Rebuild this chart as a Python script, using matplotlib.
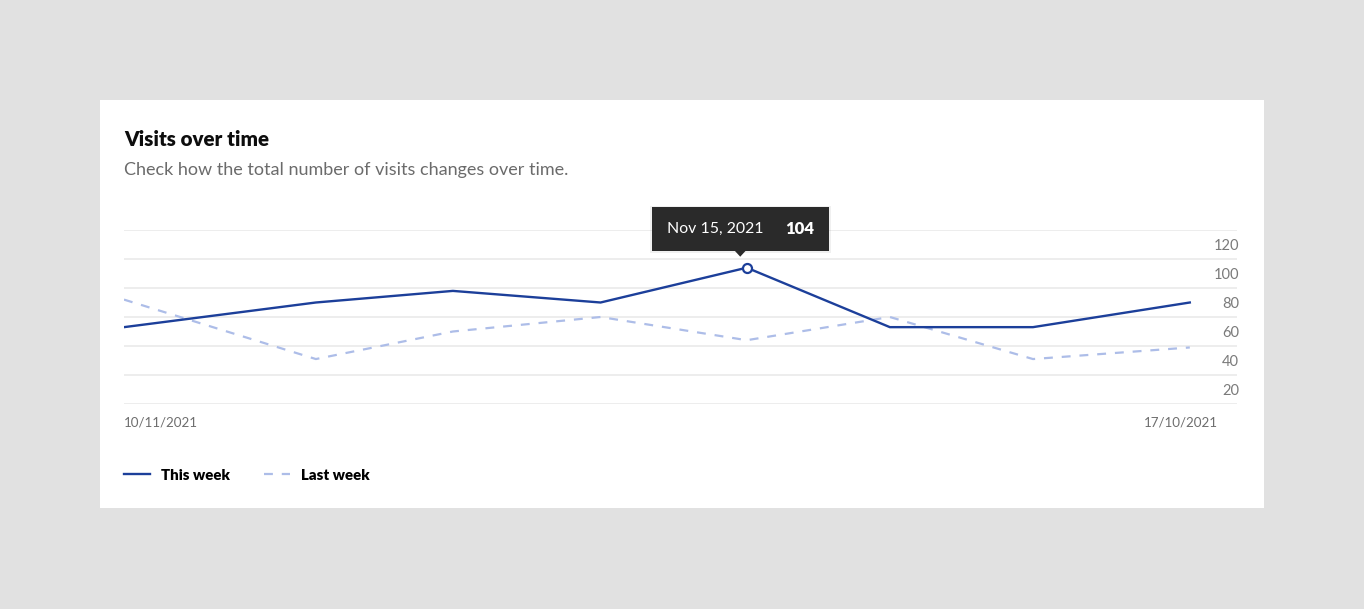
import matplotlib.pyplot as plt
from matplotlib.patches import Rectangle, Polygon
from matplotlib.transforms import IdentityTransform, Affine2D

plt.rcParams['font.family'] = ['Lato', 'DejaVu Sans']

# data
days = [0, 1.26, 2.16, 3.13, 4.09, 5.03, 5.97, 7.0]
this_week = [63, 80, 88, 80, 104, 63, 63, 80]
last_week = [82, 41, 60, 70, 54, 70, 41, 49]
date_labels = ["10/11/2021", "17/10/2021"]
y_ticks = [20, 40, 60, 80, 100, 120]
grid_vals = [10, 30, 50, 70, 90, 110, 130]
tip_index = 4
tip_date = "Nov 15, 2021"

W, H = 1364, 609
fig = plt.figure(figsize=(W / 100, H / 100), dpi=100, facecolor="#e1e1e1")

def fx(px):
    return px / W

def fy(py):
    return 1 - py / H

# card + soft shadow
for i in range(1, 22):
    fig.add_artist(Rectangle((fx(100 - i), fy(508 + i + 3)), (1164 + 2 * i) / W, (408 + 2 * i) / H,
                             transform=fig.transFigure, facecolor="black", edgecolor="none",
                             alpha=0.0016, zorder=-3))
fig.add_artist(Rectangle((fx(100), fy(508)), 1164 / W, 408 / H, transform=fig.transFigure,
                         facecolor="white", edgecolor="none", zorder=-1))

fig.text(fx(124), fy(139), "Visits over time", fontsize=14.8, fontweight="heavy",
         color="#0d0d0d", va="center")
fig.text(fx(124), fy(170), "Check how the total number of visits changes over time.",
         fontsize=13, color="#6b6b6b", va="center")

ax = fig.add_axes([fx(124), fy(404), (1237 - 124) / W, (404 - 230) / H])
ax.set_facecolor("none")
ax.set_xlim(0, 7.31)
ax.set_ylim(10, 130)

ax.plot(days, last_week, color="#adbde8", lw=1.6, dashes=(4, 4), label="Last week", zorder=2)
ax.plot(days, this_week, color="#1c3f9a", lw=1.7, label="This week", zorder=3)
ax.plot(days[tip_index], this_week[tip_index], "o", ms=6.5, mfc="white", mec="#1c3f9a",
        mew=1.6, zorder=4)

for s in ax.spines.values():
    s.set_visible(False)
ax.set_yticks(grid_vals, minor=True)
ax.set_yticks(y_ticks)
ax.yaxis.tick_right()
ax.grid(which="minor", axis="y", color="#e8e8e8", lw=1.1)
ax.tick_params(axis="y", which="both", length=0, pad=1.5, labelsize=10.5, labelcolor="#7a7a7a")
for lbl in ax.get_yticklabels():
    lbl.set_horizontalalignment("right")

ax.set_xticks([days[0], days[-1]])
ax.set_xticklabels(date_labels)
ax.tick_params(axis="x", length=0, pad=9, labelsize=9.6, labelcolor="#6e6e6e")
xl = ax.get_xticklabels()
xl[0].set_horizontalalignment("left")
xl[1].set_horizontalalignment("center")
xl[1].set_transform(xl[1].get_transform() + Affine2D().translate(-9, 0))

# legend
handles, labels = ax.get_legend_handles_labels()
leg = ax.legend(handles[::-1], labels[::-1], loc="center left", bbox_to_anchor=(fx(124), fy(475)),
                bbox_transform=fig.transFigure, frameon=False, ncol=2, borderpad=0,
                borderaxespad=0, handlelength=1.7, handletextpad=0.75, columnspacing=2.3,
                prop={"weight": "heavy", "size": 10.8})

# tooltip
px, py = ax.transData.transform((days[tip_index], this_week[tip_index]))
cx = px - 6.5
fig.add_artist(Rectangle((cx - 90.5, py + 15), 181, 47, transform=IdentityTransform(),
                         facecolor="black", edgecolor="none", alpha=0.06, zorder=9))
fig.add_artist(Rectangle((cx - 88.5, py + 17), 177, 44, transform=IdentityTransform(),
                         facecolor="#2a2a2a", edgecolor="none", zorder=10))
fig.add_artist(Polygon([(cx - 6, py + 17.5), (cx + 6, py + 17.5), (cx, py + 11)], closed=True,
                       transform=IdentityTransform(), facecolor="#2a2a2a", edgecolor="none",
                       zorder=10))
fig.text(px - 80, py + 39, tip_date, transform=IdentityTransform(), color="white",
         fontsize=11.4, va="center", ha="left", zorder=11)
fig.text(px + 67, py + 39, str(this_week[tip_index]), transform=IdentityTransform(),
         color="white", fontsize=12, fontweight="heavy", va="center", ha="right", zorder=11)

fig.savefig("out.png", dpi=100, facecolor=fig.get_facecolor())
